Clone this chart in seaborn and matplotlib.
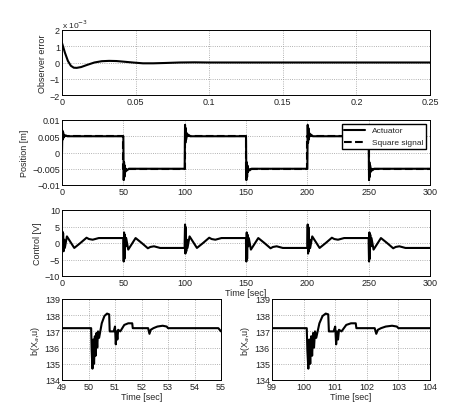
import numpy as np
import pandas as pd
import matplotlib
matplotlib.use("Agg")
import matplotlib.pyplot as plt
import seaborn as sns

# observer error (x 1e-3)
obs_t = [0, 0.002, 0.004, 0.006, 0.008, 0.010, 0.013, 0.017, 0.022, 0.027, 0.032, 0.037,
         0.042, 0.048, 0.055, 0.062, 0.070, 0.080, 0.090, 0.10, 0.15, 0.20, 0.25]
obs_v = [1.2, 0.6, 0.1, -0.2, -0.32, -0.33, -0.28, -0.15, 0.0, 0.08, 0.1, 0.09,
         0.05, 0.0, -0.05, -0.05, -0.03, 0.0, 0.01, 0.0, 0.0, 0.0, 0.0]

# position reference levels and switch times
switch_t = [0, 50, 100, 150, 200, 250, 300]
square_v = [0.005, -0.005, 0.005, -0.005, 0.005, -0.005]
# actuator step response shape (offset sec, fraction of step)
pos_dt = [0, 0.3, 0.6, 0.9, 1.2, 1.6, 2.2, 3.0, 4.5]
pos_frac = [0.0, 1.35, 0.8, 1.25, 0.9, 1.1, 1.0, 1.05, 1.0]

# control voltage pattern after a switch (offset sec, volts for a +step)
ctl_dt = [0, 0.3, 0.6, 0.9, 1.3, 1.8, 2.3, 4, 10, 15, 20, 22, 25, 30, 50]
ctl_v = [0, 3.5, -2, 3, -2.5, 1, -1.5, 2, -1.5, 0, 1.6, 1.2, 1.0, 1.5, 1.5]
ctl_sign = [1, -1, 1, -1, 1, -1]
ctl_amp = [1.0, 1.6, 1.6, 1.6, 1.6, 1.6]

# b(Xa,u) zoom around t = 50
b_t = [49, 50.1, 50.12, 50.15, 50.18, 50.21, 50.24, 50.27, 50.3, 50.33, 50.36, 50.4,
       50.5, 50.6, 50.7, 50.78, 50.8, 50.95, 51.0, 51.03, 51.06, 51.09, 51.12, 51.2,
       51.35, 51.5, 51.65, 51.67, 52.25, 52.3, 52.35, 52.45, 52.6, 52.8, 52.95, 53.0, 54.9, 55]
b_v = [137.2, 137.2, 135.8, 134.7, 136.5, 135.0, 136.7, 135.5, 136.9, 136.0, 137.0, 136.6,
       137.5, 137.95, 138.1, 138.05, 137.0, 137.0, 137.3, 136.2, 137.0, 136.5, 137.1, 137.0,
       137.4, 137.5, 137.5, 137.2, 137.2, 136.85, 137.1, 137.2, 137.3, 137.35, 137.3, 137.2, 137.2, 137.0]

# build series
pos_t, pos_v, sq_t, sq_v = [], [], [], []
ctl_t, ctl_y = [], []
for i in range(6):
    t0, lvl = switch_t[i], square_v[i]
    prev = -lvl if i > 0 else 0.0
    for dt, f in zip(pos_dt, pos_frac):
        pos_t.append(t0 + dt); pos_v.append(prev + f * (lvl - prev))
    pos_t.append(switch_t[i + 1]); pos_v.append(lvl)
    sq_t += [t0, t0, switch_t[i + 1]]; sq_v += [prev if i > 0 else lvl, lvl, lvl]
    for dt, v in zip(ctl_dt, ctl_v):
        a = ctl_amp[i] if dt < 1 else 1.0
        ctl_t.append(t0 + dt); ctl_y.append(ctl_sign[i] * v * a)

sns.set_style("whitegrid")
plt.rcParams["font.family"] = ["Liberation Sans", "DejaVu Sans"]
plt.rcParams["font.size"] = 6.5
grid = dict(color="#999999", linestyle=":", linewidth=0.6)
kw = dict(color="k", lw=1.5, sort=False, estimator=None)

fig = plt.figure(figsize=(4.74, 4.14), dpi=100)
W, H = 474, 414
def box(x0, y0, x1, y1):
    return fig.add_axes([x0 / W, 1 - y1 / H, (x1 - x0) / W, (y1 - y0) / H])

ax1 = box(62, 31, 430, 96)
ax2 = box(62, 121, 430, 186)
ax3 = box(62, 211, 430, 277)
ax4 = box(62, 300, 221, 381)
ax5 = box(272, 300, 430, 381)

sns.lineplot(x=obs_t, y=obs_v, ax=ax1, **kw)
ax1.set(xlim=(0, 0.25), ylim=(-2, 2), yticks=[-2, -1, 0, 1, 2], ylabel="Observer error",
        xticks=[0, 0.05, 0.1, 0.15, 0.2, 0.25])
ax1.set_xticklabels(["0", "0.05", "0.1", "0.15", "0.2", "0.25"])
ax1.text(0, 1.03, r"x 10$^{-3}$", transform=ax1.transAxes, fontsize=6)

sns.lineplot(x=pos_t, y=pos_v, ax=ax2, label="Actuator", **kw)
sns.lineplot(x=sq_t, y=sq_v, ax=ax2, ls="--", label="Square signal", **kw)
ax2.set(xlim=(0, 300), ylim=(-0.01, 0.01), xticks=range(0, 301, 50),
        yticks=[-0.01, -0.005, 0, 0.005, 0.01], ylabel="Position [m]")
ax2.set_yticklabels(["\u22120.01", "\u22120.005", "0", "0.005", "0.01"])
ax2.legend(loc="upper right", fontsize=6, frameon=True, edgecolor="k", fancybox=False,
           borderpad=0.3, handlelength=2.5, framealpha=1)

sns.lineplot(x=ctl_t, y=ctl_y, ax=ax3, **kw)
ax3.set(xlim=(0, 300), ylim=(-10, 10), xticks=range(0, 301, 50), yticks=[-10, -5, 0, 5, 10],
        ylabel="Control [V]", xlabel="Time [sec]")

b2_t = [t + 50 for t in b_t]
for ax, bt, xl in [(ax4, b_t, (49, 55)), (ax5, b2_t, (99, 104))]:
    sns.lineplot(x=bt, y=b_v, ax=ax, **kw)
    ax.set(xlim=xl, ylim=(134, 139), xticks=range(xl[0], xl[1] + 1), yticks=range(134, 140),
           ylabel=r"b(X$_a$,u)", xlabel="Time [sec]")

for ax in (ax1, ax2, ax3, ax4, ax5):
    ax.grid(True, **grid)
    ax.set_facecolor("white")
    for s in ax.spines.values():
        s.set_color("k"); s.set_linewidth(0.7)
    ax.tick_params(length=2, pad=1.5, direction="in", colors="#222222")
    ax.xaxis.labelpad = 1; ax.yaxis.labelpad = 2

fig.savefig("out.png", dpi=100)
